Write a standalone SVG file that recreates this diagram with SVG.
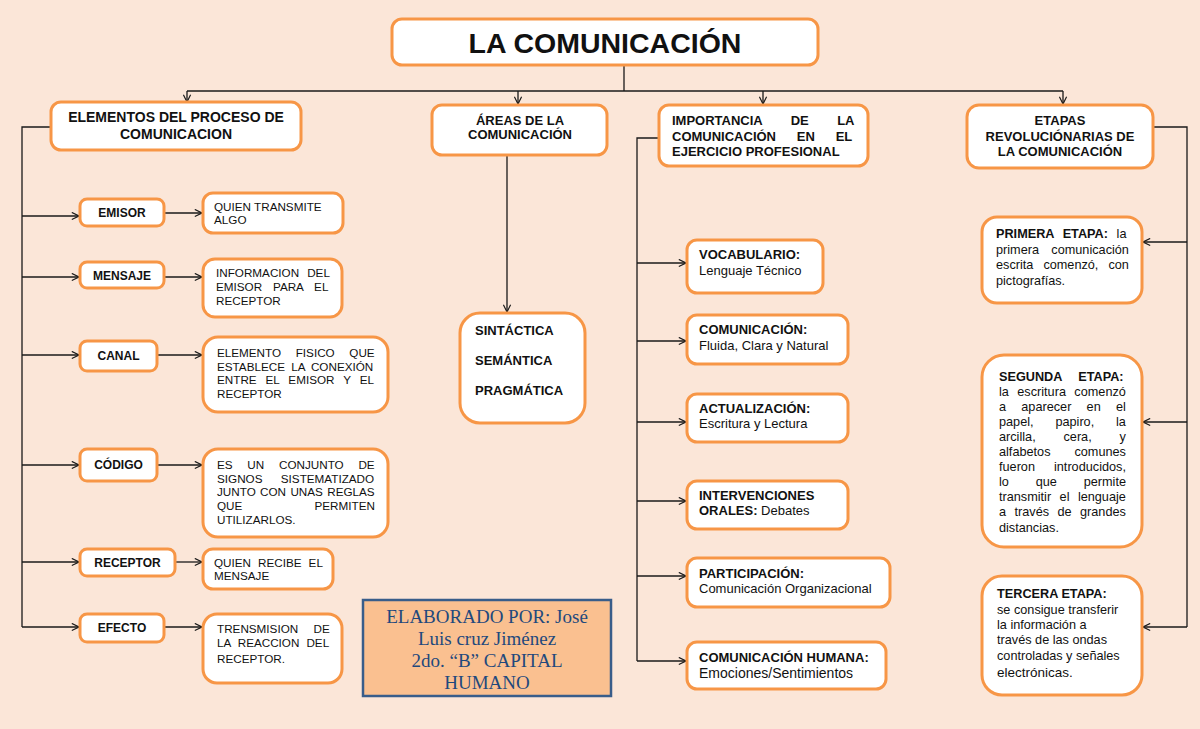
<svg xmlns="http://www.w3.org/2000/svg" width="1200" height="729" viewBox="0 0 1200 729">
<defs>
<style>
.box{fill:#fff;stroke:#F79646;stroke-width:3}
.ln{stroke:#1a1a1a;stroke-width:1.3;fill:none}
.ar{marker-end:url(#ah)}
text{font-family:"Liberation Sans",Arial,sans-serif;fill:#111}
.b{font-weight:bold}
.lab{font-weight:bold;font-size:12px;text-anchor:middle}
.hd{font-weight:bold;font-size:13px}
.ds{font-size:11.7px}
.rt{font-size:13px}
.et{font-size:12.7px}
.elab{font-family:"Liberation Serif","Times New Roman",serif;font-size:19px;fill:#1F497D;text-anchor:middle}
</style>
<marker id="ah" viewBox="0 0 10 10" refX="9" refY="5" markerWidth="9" markerHeight="9" markerUnits="userSpaceOnUse" orient="auto">
<path d="M1,1 L9,5 L1,9" fill="none" stroke="#1a1a1a" stroke-width="1.3"/>
</marker>
</defs>
<rect width="1200" height="729" fill="#FBE6D8"/>

<g id="connectors">
<path class="ln" d="M624,65 V91"/>
<path class="ln" d="M187,91 H1063"/>
<path class="ln ar" d="M187,91 V102"/>
<path class="ln ar" d="M518,91 V104"/>
<path class="ln ar" d="M763,91 V104"/>
<path class="ln ar" d="M1063,91 V104"/>
<path class="ln" d="M51,127 H22 V627"/>
<path class="ln ar" d="M22,216 H79"/>
<path class="ln ar" d="M22,277 H79"/>
<path class="ln ar" d="M22,355 H79"/>
<path class="ln ar" d="M22,465 H79"/>
<path class="ln ar" d="M22,562 H79"/>
<path class="ln ar" d="M22,627 H79"/>
<path class="ln ar" d="M164,213 H202"/>
<path class="ln ar" d="M164,277 H202"/>
<path class="ln ar" d="M157,355 H202"/>
<path class="ln ar" d="M157,465 H202"/>
<path class="ln ar" d="M175,562 H202"/>
<path class="ln ar" d="M164,627 H202"/>
<path class="ln ar" d="M507,155 V312"/>
<path class="ln" d="M659,138 H637 V661"/>
<path class="ln ar" d="M637,263 H686"/>
<path class="ln ar" d="M637,341 H686"/>
<path class="ln ar" d="M637,422 H686"/>
<path class="ln ar" d="M637,501 H686"/>
<path class="ln ar" d="M637,576 H686"/>
<path class="ln ar" d="M637,661 H686"/>
<path class="ln" d="M1153,127 H1187 V627"/>
<path class="ln ar" d="M1187,242 H1143"/>
<path class="ln ar" d="M1187,422 H1143"/>
<path class="ln ar" d="M1187,627 H1143"/>
</g>

<g id="title">
<rect class="box" x="392" y="19" width="426" height="46" rx="10"/>
<text class="b" x="605" y="52.5" font-size="28.5" text-anchor="middle">LA COMUNICACIÓN</text>
</g>

<g id="elementos">
<rect class="box" x="51" y="102" width="250" height="48" rx="10"/>
<text class="b" x="176" y="122" font-size="14" text-anchor="middle">ELEMENTOS DEL PROCESO DE</text>
<text class="b" x="176" y="139" font-size="14" text-anchor="middle">COMUNICACION</text>
</g>

<g id="emisor"><rect class="box" x="80" y="199" width="84" height="27" rx="7"/><text class="lab" x="122" y="217">EMISOR</text></g>
<g id="mensaje"><rect class="box" x="80" y="262" width="84" height="26" rx="7"/><text class="lab" x="122" y="279.5">MENSAJE</text></g>
<g id="canal"><rect class="box" x="80" y="341" width="77" height="30" rx="7"/><text class="lab" x="118.5" y="360">CANAL</text></g>
<g id="codigo"><rect class="box" x="80" y="449" width="77" height="32" rx="7"/><text class="lab" x="118.5" y="469">CÓDIGO</text></g>
<g id="receptor"><rect class="box" x="80" y="549" width="95" height="27" rx="7"/><text class="lab" x="127.5" y="566.5">RECEPTOR</text></g>
<g id="efecto"><rect class="box" x="80" y="614" width="84" height="28" rx="7"/><text class="lab" x="122" y="632">EFECTO</text></g>

<g id="emisor-desc">
<rect class="box" x="203" y="193" width="140" height="40" rx="10"/>
<text class="ds" x="214" y="211">QUIEN TRANSMITE</text>
<text class="ds" x="214" y="224">ALGO</text>
</g>
<g id="mensaje-desc">
<rect class="box" x="203" y="259" width="139" height="58" rx="12"/>
<text class="ds" x="216" y="277" word-spacing="4.8">INFORMACION DEL</text>
<text class="ds" x="216" y="291" word-spacing="7.6">EMISOR PARA EL</text>
<text class="ds" x="216" y="305">RECEPTOR</text>
</g>
<g id="canal-desc">
<rect class="box" x="203" y="337" width="185" height="75" rx="15"/>
<text class="ds" x="217" y="357" word-spacing="11.4">ELEMENTO FISICO QUE</text>
<text class="ds" x="217" y="370.7" word-spacing="2.9">ESTABLECE LA CONEXIÓN</text>
<text class="ds" x="217" y="384.3" word-spacing="5.7">ENTRE EL EMISOR Y EL</text>
<text class="ds" x="217" y="398">RECEPTOR</text>
</g>
<g id="codigo-desc">
<rect class="box" x="203" y="449" width="185" height="88" rx="15"/>
<text class="ds" x="217" y="469" word-spacing="11.5">ES UN CONJUNTO DE</text>
<text class="ds" x="217" y="482.7" word-spacing="15.1">SIGNOS SISTEMATIZADO</text>
<text class="ds" x="217" y="496.3" word-spacing="1.1">JUNTO CON UNAS REGLAS</text>
<text class="ds" x="217" y="510" word-spacing="68.9">QUE PERMITEN</text>
<text class="ds" x="217" y="524">UTILIZARLOS.</text>
</g>
<g id="receptor-desc">
<rect class="box" x="203" y="549" width="130" height="40" rx="10"/>
<text class="ds" x="214" y="567" word-spacing="3.8">QUIEN RECIBE EL</text>
<text class="ds" x="214" y="580">MENSAJE</text>
</g>
<g id="efecto-desc">
<rect class="box" x="203" y="614" width="139" height="69" rx="14"/>
<text class="ds" x="217" y="633" word-spacing="12.2">TRENSMISION DE</text>
<text class="ds" x="217" y="647" word-spacing="3.8">LA REACCION DEL</text>
<text class="ds" x="217" y="663">RECEPTOR.</text>
</g>

<g id="elaborado">
<rect x="363" y="600" width="248" height="96" fill="#FAC090" stroke="#385D8A" stroke-width="2.5"/>
<text class="elab" x="487" y="623">ELABORADO POR: José</text>
<text class="elab" x="487" y="645">Luis cruz Jiménez</text>
<text class="elab" x="487" y="667">2do. “B” CAPITAL</text>
<text class="elab" x="487" y="689">HUMANO</text>
</g>

<g id="areas">
<rect class="box" x="432" y="105" width="175" height="50" rx="10"/>
<text class="hd" x="520" y="124.5" text-anchor="middle">ÁREAS DE LA</text>
<text class="hd" x="520" y="139" text-anchor="middle">COMUNICACIÓN</text>
</g>
<g id="sintactica">
<rect class="box" x="460" y="313" width="125" height="110" rx="20"/>
<text class="hd" x="475" y="334.5">SINTÁCTICA</text>
<text class="hd" x="475" y="364.5">SEMÁNTICA</text>
<text class="hd" x="475" y="394.5">PRAGMÁTICA</text>
</g>

<g id="importancia">
<rect class="box" x="659" y="105" width="209" height="61" rx="10"/>
<text class="hd" x="672" y="124.5" word-spacing="24.8">IMPORTANCIA DE LA</text>
<text class="hd" x="672" y="140.5" word-spacing="17.2">COMUNICACIÓN EN EL</text>
<text class="hd" x="672" y="155.5">EJERCICIO PROFESIONAL</text>
</g>
<g id="vocabulario">
<rect class="box" x="687" y="240" width="136" height="53" rx="10"/>
<text class="rt b" x="699" y="258.5">VOCABULARIO:</text>
<text class="rt" x="699" y="274.5">Lenguaje Técnico</text>
</g>
<g id="comunicacion">
<rect class="box" x="687" y="315" width="161" height="49" rx="10"/>
<text class="rt b" x="699" y="333.5">COMUNICACIÓN:</text>
<text class="rt" x="699" y="349.5">Fluida, Clara y Natural</text>
</g>
<g id="actualizacion">
<rect class="box" x="687" y="394" width="161" height="48" rx="10"/>
<text class="rt b" x="699" y="412.5">ACTUALIZACIÓN:</text>
<text class="rt" x="699" y="427.5">Escritura y Lectura</text>
</g>
<g id="intervenciones">
<rect class="box" x="687" y="481" width="161" height="48" rx="10"/>
<text class="rt b" x="699" y="499.5">INTERVENCIONES</text>
<text class="rt" x="699" y="514.5"><tspan font-weight="bold">ORALES:</tspan> Debates</text>
</g>
<g id="participacion">
<rect class="box" x="687" y="558" width="203" height="49" rx="10"/>
<text class="rt b" x="699" y="577.5">PARTICIPACIÓN:</text>
<text class="rt" x="699" y="592.5">Comunicación Organizacional</text>
</g>
<g id="humana">
<rect class="box" x="687" y="642" width="199" height="47" rx="10"/>
<text class="rt b" x="699" y="661.5">COMUNICACIÓN HUMANA:</text>
<text x="699" y="677.5" font-size="14">Emociones/Sentimientos</text>
</g>

<g id="etapas">
<rect class="box" x="967" y="105" width="186" height="63" rx="12"/>
<text class="hd" x="1060" y="124.5" text-anchor="middle">ETAPAS</text>
<text class="hd" x="1060" y="140.5" text-anchor="middle">REVOLUCIÓNARIAS DE</text>
<text class="hd" x="1060" y="155.5" text-anchor="middle">LA COMUNICACIÓN</text>
</g>
<g id="primera">
<rect class="box" x="982" y="217" width="160" height="86" rx="15"/>
<text class="et" x="996" y="237.5" word-spacing="5.1"><tspan font-weight="bold">PRIMERA ETAPA:</tspan> la</text>
<text class="et" x="996" y="253.5" word-spacing="8.8">primera comunicación</text>
<text class="et" x="996" y="268.5" word-spacing="6.5">escrita comenzó, con</text>
<text class="et" x="996" y="284.5">pictografías.</text>
</g>
<g id="segunda">
<rect class="box" x="982" y="355" width="160" height="192" rx="22"/>
<text class="et b" x="999" y="380.5" word-spacing="12.7">SEGUNDA ETAPA:</text>
<text class="et" x="999" y="395.6" word-spacing="4.9">la escritura comenzó</text>
<text class="et" x="999" y="410.7" word-spacing="11.7">a aparecer en el</text>
<text class="et" x="999" y="425.8" word-spacing="18.3">papel, papiro, la</text>
<text class="et" x="999" y="440.9" word-spacing="24.3">arcilla, cera, y</text>
<text class="et" x="999" y="456" word-spacing="20.4">alfabetos comunes</text>
<text class="et" x="999" y="471.1" word-spacing="15.5">fueron introducidos,</text>
<text class="et" x="999" y="486.2" word-spacing="23.3">lo que permite</text>
<text class="et" x="999" y="501.3" word-spacing="4.9">transmitir el lenguaje</text>
<text class="et" x="999" y="516.4" word-spacing="4.9">a través de grandes</text>
<text class="et" x="999" y="531.5">distancias.</text>
</g>
<g id="tercera">
<rect class="box" x="982" y="576" width="160" height="119" rx="20"/>
<text class="et b" x="997" y="597.5">TERCERA ETAPA:</text>
<text class="et" x="997" y="613.5">se consigue transferir</text>
<text class="et" x="997" y="628.5">la información a</text>
<text class="et" x="997" y="643.5">través de las ondas</text>
<text class="et" x="997" y="659.5">controladas y señales</text>
<text x="997" y="677" font-size="13.5">electrónicas.</text>
</g>
</svg>
